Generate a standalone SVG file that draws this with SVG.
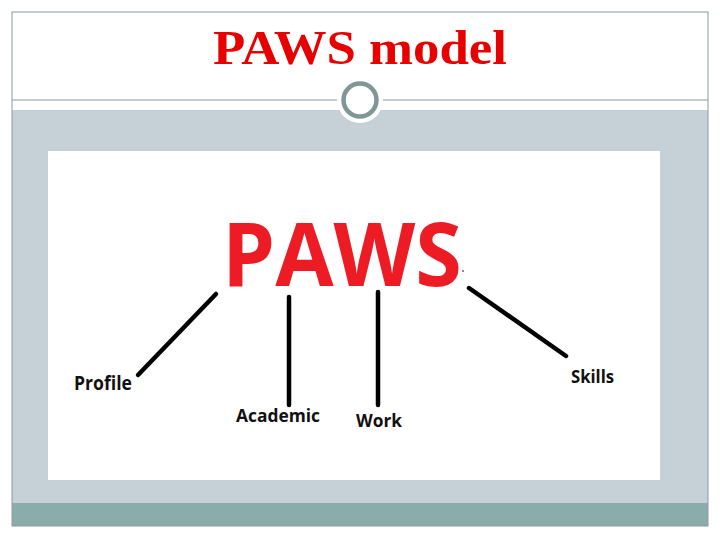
<svg xmlns="http://www.w3.org/2000/svg" width="720" height="540" viewBox="0 0 720 540">
<style>
.lbl{font-family:"Open Sans","Liberation Sans",sans-serif;font-weight:bold;fill:#111;}
.con{stroke:#000;stroke-width:4.5;stroke-linecap:round;fill:none;}
</style>
<rect width="720" height="540" fill="#fff"/>
<g id="frame">
<rect x="12" y="110" width="696" height="393" fill="#c5d1d6"/>
<rect x="12" y="503" width="696" height="23" fill="#8aacab"/>
<rect x="12" y="12" width="696" height="514" fill="none" stroke="#8a9a9c" stroke-width="1"/>
<line x1="12" y1="100" x2="708" y2="100" stroke="#8a9a9c" stroke-width="1.2"/>
<circle cx="360" cy="100" r="23" fill="#fff"/>
<circle cx="360" cy="100" r="16.5" fill="#fff" stroke="#7f9797" stroke-width="4.5"/>
</g>
<text id="title" x="360" y="64" text-anchor="middle" font-family="'Liberation Serif',serif" font-weight="bold" font-size="48" fill="#e60000" textLength="294" lengthAdjust="spacingAndGlyphs">PAWS model</text>
<rect x="48" y="151" width="612" height="329" fill="#fff"/>
<g id="paws"><text x="222" y="286" font-family="'Open Sans','Liberation Sans',sans-serif" font-weight="bold" font-size="88" fill="#ed1c24" textLength="240" lengthAdjust="spacingAndGlyphs">PAWS</text></g>
<g id="connectors">
<line class="con" x1="216" y1="294" x2="138" y2="375"/>
<line class="con" x1="289" y1="297" x2="289" y2="405"/>
<line class="con" x1="378" y1="292" x2="378" y2="405"/>
<line class="con" x1="469" y1="288" x2="566" y2="356"/>
<circle cx="463" cy="271" r="0.8" fill="#000"/>
</g>
<g id="profile"><text class="lbl" x="74" y="390" font-size="19" textLength="58" lengthAdjust="spacingAndGlyphs">Profile</text></g>
<g id="academic"><text class="lbl" x="236" y="422" font-size="17" textLength="84" lengthAdjust="spacingAndGlyphs">Academic</text></g>
<g id="work"><text class="lbl" x="356" y="427" font-size="17" textLength="46" lengthAdjust="spacingAndGlyphs">Work</text></g>
<g id="skills"><text class="lbl" x="571" y="383" font-size="17" textLength="43" lengthAdjust="spacingAndGlyphs">Skills</text></g>
</svg>
